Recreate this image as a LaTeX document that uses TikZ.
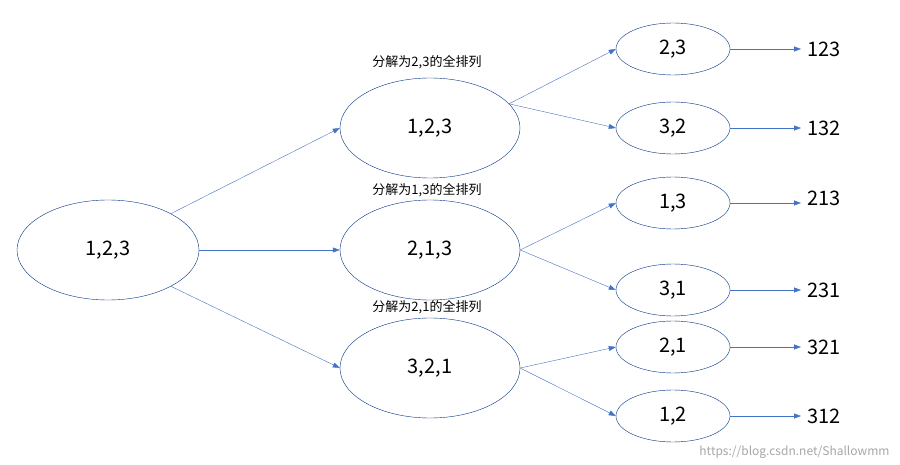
\documentclass[tikz,border=0pt]{standalone}
\usepackage{fontspec}
\setmainfont{Noto Sans CJK SC}
\usetikzlibrary{shapes.geometric,arrows.meta}
\begin{document}
\begin{tikzpicture}[x=1pt,y=-1pt,
  el/.style={ellipse,draw=blue!40!black!80!cyan,fill=white,inner sep=0,font=\fontsize{20}{24}\selectfont},
  big/.style={el,minimum width=182,minimum height=100},
  mid/.style={el,minimum width=180,minimum height=100},
  sm/.style={el,minimum width=114,minimum height=52},
  outtxt/.style={font=\fontsize{20}{24}\selectfont,anchor=west,inner sep=0},
  lab/.style={font=\fontsize{13}{15}\selectfont},
  arr/.style={draw={rgb,255:red,68;green,114;blue,196},-{Triangle[length=7pt,width=5pt]}}]
\useasboundingbox (0,0) rectangle (900,465);
\node[big] (a) at (108,250) {1,2,3};
\node[mid] (m1) at (430,128) {1,2,3};
\node[mid] (m2) at (430,250) {2,1,3};
\node[mid] (m3) at (430,368) {3,2,1};
\node[lab] (l1) at (427,62) {分解为2,3的全排列};
\node[lab] (l2) at (427,190) {分解为1,3的全排列};
\node[lab] (l3) at (427,307) {分解为2,1的全排列};
\node[sm] (r1) at (673,49) {2,3};
\node[sm] (r2) at (673,128) {3,2};
\node[sm] (r3) at (673,203) {1,3};
\node[sm] (r4) at (673,290) {3,1};
\node[sm] (r5) at (673,347) {2,1};
\node[sm] (r6) at (673,416) {1,2};
\foreach \i/\t/\y in {1/123/49,2/132/128,3/213/198,4/231/290,5/321/347,6/312/416}
  \node[outtxt] (o\i) at (807,\y) {\t};
\draw[arr] (a.30) -- (m1.west);
\draw[arr] (a.east) -- (m2.west);
\draw[arr] (a.-30) -- (m3.west);
\draw[arr] (m1.17) -- (r1.west);
\draw[arr] (m1.17) -- (r2.west);
\draw[arr] (m2.east) -- (r3.west);
\draw[arr] (m2.east) -- (r4.west);
\draw[arr] (m3.east) -- (r5.west);
\draw[arr] (m3.east) -- (r6.west);
\foreach \i in {1,...,6} \draw[arr] (r\i.east) -- ([xshift=-6pt]o\i.west |- r\i.east);
\node[lab,text=gray!70,font=\fontsize{12}{14}\selectfont,anchor=east] (wm) at (893,452) {https://blog.csdn.net/Shallowmm};
\end{tikzpicture}
\end{document}
